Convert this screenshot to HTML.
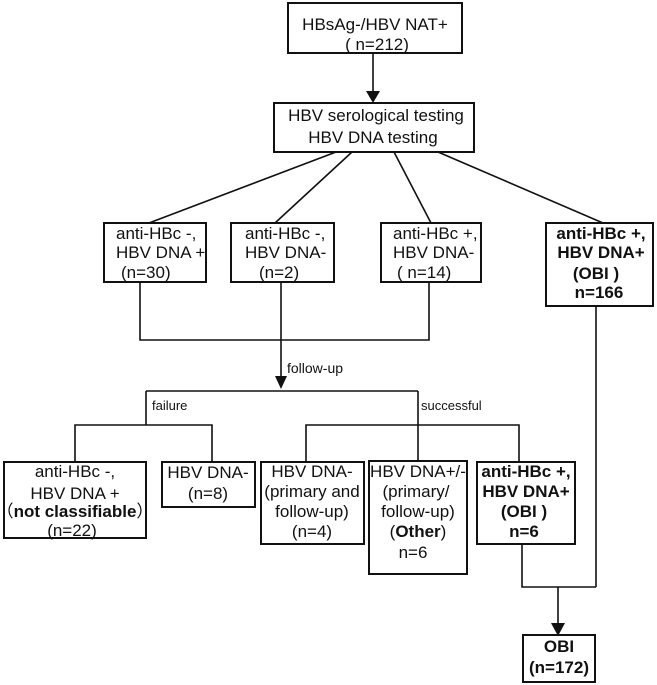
<!DOCTYPE html>
<html><head><meta charset="utf-8"><style>
html,body{margin:0;padding:0;background:#fff;}
svg{display:block;}
text{font-family:"Liberation Sans",Arial,sans-serif;font-size:17px;fill:#111;}
.b{font-weight:bold;}
.s{font-size:13px;}
rect{fill:#fff;stroke:#111;stroke-width:2;}
line,polyline{stroke:#111;stroke-width:1.6;fill:none;}
</style></head><body>
<svg width="657" height="685" viewBox="0 0 657 685" xmlns="http://www.w3.org/2000/svg">
<line x1="373" y1="53" x2="373" y2="92"/>
<polygon points="366,91 380,91 373,103" fill="#111"/>
<line x1="336" y1="152" x2="149" y2="223"/>
<line x1="352" y1="152" x2="275" y2="223"/>
<line x1="394" y1="152" x2="431" y2="223"/>
<line x1="438" y1="152" x2="603" y2="223"/>
<polyline points="140,282 140,340 429,340 429,282"/>
<line x1="281" y1="282" x2="281" y2="378"/>
<polygon points="275,376 287,376 281,389" fill="#111"/>
<text x="287" y="373" style="font-size:14px">follow-up</text>
<line x1="146" y1="391" x2="418" y2="391"/>
<line x1="146" y1="391" x2="146" y2="425"/>
<line x1="418" y1="391" x2="418" y2="461"/>
<text class="s" x="152" y="410">failure</text>
<text class="s" x="421" y="410">successful</text>
<polyline points="75,462 75,425 212,425 212,462"/>
<polyline points="306,462 306,425 519,425 519,462"/>
<line x1="596" y1="306" x2="596" y2="587"/>
<polyline points="522,544 522,587 596,587"/>
<line x1="558" y1="587" x2="558" y2="624"/>
<polygon points="551,623 565,623 558,636" fill="#111"/>
<rect x="288" y="3" width="174" height="50"/>
<text x="375" y="30" text-anchor="middle">HBsAg-/HBV NAT+</text>
<text x="377" y="50" text-anchor="middle">( n=212)</text>
<rect x="274" y="103" width="200" height="49"/>
<text x="376" y="121" text-anchor="middle">HBV serological testing</text>
<text x="373" y="143" text-anchor="middle">HBV DNA testing</text>
<rect x="104" y="223" width="102" height="59"/>
<text x="116" y="239">anti-HBc -,</text>
<text x="116" y="258">HBV DNA +</text>
<text x="121" y="278">(n=30)</text>
<rect x="231" y="223" width="103" height="59"/>
<text x="245" y="239">anti-HBc -,</text>
<text x="245" y="258">HBV DNA-</text>
<text x="259" y="278">(n=2)</text>
<rect x="381" y="223" width="100" height="59"/>
<text x="393" y="239">anti-HBc +,</text>
<text x="393" y="258">HBV DNA-</text>
<text x="397" y="278">( n=14)</text>
<rect x="546" y="223" width="107" height="83"/>
<text class="b" x="601" y="239" text-anchor="middle">anti-HBc +,</text>
<text class="b" x="601" y="258" text-anchor="middle">HBV DNA+</text>
<text class="b" x="596" y="279" text-anchor="middle">(OBI )</text>
<text class="b" x="599" y="298" text-anchor="middle">n=166</text>
<rect x="4" y="462" width="142" height="76"/>
<text x="75" y="477" text-anchor="middle">anti-HBc -,</text>
<text x="75" y="499" text-anchor="middle">HBV DNA +</text>
<text x="75" y="517" text-anchor="middle">（<tspan class="b">not classifiable</tspan>）</text>
<text x="72" y="536" text-anchor="middle">(n=22)</text>
<rect x="162" y="462" width="93" height="45"/>
<text x="208" y="478" text-anchor="middle">HBV DNA-</text>
<text x="208" y="499" text-anchor="middle">(n=8)</text>
<rect x="261" y="462" width="103" height="82"/>
<text x="312" y="477" text-anchor="middle">HBV DNA-</text>
<text x="312" y="497" text-anchor="middle">(primary and</text>
<text x="312" y="517" text-anchor="middle">follow-up)</text>
<text x="312" y="537" text-anchor="middle">(n=4)</text>
<rect x="369" y="461" width="98" height="113"/>
<text x="418" y="477" text-anchor="middle">HBV DNA+/-</text>
<text x="416" y="497" text-anchor="middle">(primary/</text>
<text x="418" y="517" text-anchor="middle">follow-up)</text>
<text x="418" y="537" text-anchor="middle">(<tspan class="b">Other</tspan>)</text>
<text x="413" y="558" text-anchor="middle">n=6</text>
<rect x="477" y="462" width="98" height="82"/>
<text class="b" x="526" y="477" text-anchor="middle">anti-HBc +,</text>
<text class="b" x="526" y="497" text-anchor="middle">HBV DNA+</text>
<text class="b" x="524" y="517" text-anchor="middle">(OBI )</text>
<text class="b" x="524" y="537" text-anchor="middle">n=6</text>
<rect x="523" y="635" width="72" height="47"/>
<text class="b" x="559" y="652" text-anchor="middle">OBI</text>
<text class="b" x="559" y="673" text-anchor="middle">(n=172)</text>
</svg>
</body></html>
